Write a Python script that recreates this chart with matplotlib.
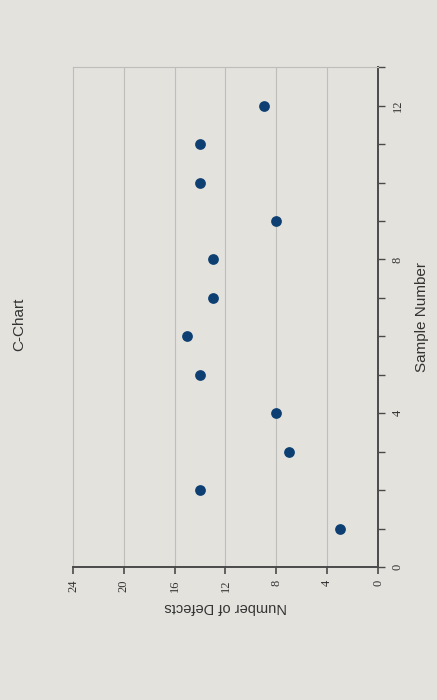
import matplotlib
matplotlib.use("Agg")
import matplotlib.pyplot as plt
import numpy as np

# photo of a C-chart, turned 90 degrees: defects run right-to-left along the bottom,
# sample numbers run bottom-to-top on the right
samples = [1, 2, 3, 4, 5, 6, 7, 8, 9, 10, 11, 12]
defects = [3, 14, 7, 8, 14, 15, 13, 13, 8, 14, 14, 9]
defect_ticks = [0, 4, 8, 12, 16, 20, 24]
sample_ticks = [0, 4, 8, 12]

bg = "#e3e2dd"
axis_col = "#4a4a4a"

fig = plt.figure(figsize=(4.37, 7.0), dpi=100, facecolor=bg)
ax = fig.add_axes([0.167, 0.19, 0.698, 0.714], facecolor=bg)

ax.scatter(defects, samples, s=60, color="#0d3f73", zorder=3, linewidths=0)

ax.set_xlim(24, 0)
ax.set_ylim(0, 13)

ax.set_xticks(defect_ticks)
ax.set_xticklabels([str(t) for t in defect_ticks], rotation=90, fontsize=9,
                   color="#333333", family="Liberation Serif")
ax.set_yticks(sample_ticks)
ax.set_yticks(range(0, 14), minor=True)
ax.set_yticklabels([str(t) for t in sample_ticks], rotation=90, fontsize=9,
                   color="#333333", family="Liberation Serif", va="center")

ax.yaxis.tick_right()
ax.yaxis.set_label_position("right")
ax.tick_params(axis="x", length=5, width=1.2, color=axis_col, pad=4)
ax.tick_params(axis="y", which="both", length=5, width=1.0, color=axis_col, pad=5)

for g in defect_ticks[1:-1]:
    ax.axvline(g, color="#bdbdba", linewidth=0.8, zorder=1)

for side in ["top", "left"]:
    ax.spines[side].set_color("#bdbdba")
    ax.spines[side].set_linewidth(0.8)
ax.spines["bottom"].set_color(axis_col)
ax.spines["bottom"].set_linewidth(1.4)
ax.spines["right"].set_color(axis_col)
ax.spines["right"].set_linewidth(1.4)

ax.set_xlabel("Number of Defects", rotation=180, fontsize=10.5, color="#333333",
              labelpad=6, family="Liberation Sans")
ax.set_ylabel("Sample Number", rotation=90, fontsize=11, color="#333333",
              labelpad=8, family="Liberation Sans")

fig.text(0.045, 0.536, "C-Chart", rotation=90, fontsize=11, color="#333333",
         ha="center", va="center", family="Liberation Sans")

fig.savefig("out.png", dpi=100, facecolor=bg)
